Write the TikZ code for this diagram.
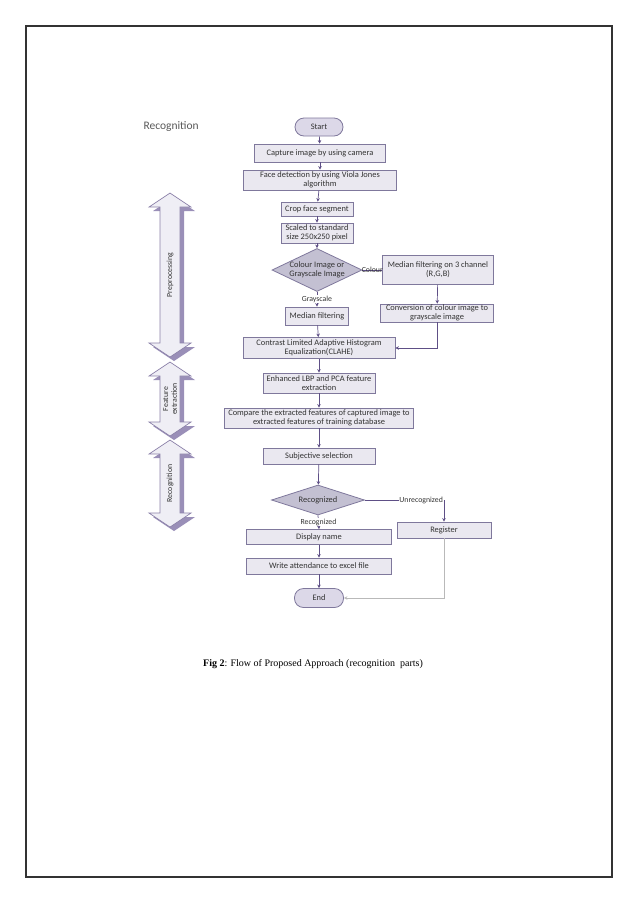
\documentclass[tikz,border=0pt]{standalone}
\usepackage{fontspec}
\setmainfont{Liberation Serif}
\newfontfamily\boxfont{Carlito}
\usetikzlibrary{shapes.geometric,arrows.meta}
\definecolor{boxfill}{HTML}{EAE8F0}
\definecolor{boxline}{HTML}{7F789C}
\definecolor{dfill}{HTML}{C3C0D2}
\definecolor{sfill}{HTML}{DCD8E8}
\definecolor{arr}{HTML}{5E4F86}
\definecolor{txt}{HTML}{333333}
\definecolor{bigfill}{HTML}{EFEEF5}
\definecolor{bigdark}{HTML}{9A8FB8}
\definecolor{bigline}{HTML}{8A80A8}
\tikzset{
  every node/.style={font=\boxfont\fontsize{8.4}{8.8}\selectfont, text=txt},
  procbox/.style={draw=boxline, fill=boxfill, line width=0.8pt, inner sep=0pt, align=center},
  stadium/.style={draw=boxline, fill=sfill, line width=0.8pt, rounded corners=9pt, inner sep=0pt, minimum width=48pt, minimum height=18pt},
  decision/.style={diamond, draw=boxline, fill=dfill, line width=0.8pt, inner sep=0pt, aspect=2.1, align=center},
  flowarrow/.style={draw=arr, line width=0.7pt, -{Stealth[length=3.5pt,width=3.5pt]}},
  greyarrow/.style={draw=gray!55, line width=0.8pt, -{Stealth[length=3.5pt,width=3.5pt,open]}},
  edgelabel/.style={font=\boxfont\fontsize{7.8}{8.5}\selectfont, fill=white, inner sep=0.8pt},
}
\newcommand\vdarrow[3]{%
  \fill[bigdark] ({174},{#1+4}) -- ({195},{#1+18}) -- ({184},{#1+18}) -- ({184},{#2-10}) -- ({195},{#2-10}) -- ({174},{#2+4}) -- ({153},{#2-10}) -- ({164},{#2-10}) -- ({164},{#1+18}) -- ({153},{#1+18}) -- cycle;
  \draw[bigline, fill=bigfill, line width=0.7pt] ({170},{#1}) -- ({191},{#1+14}) -- ({180},{#1+14}) -- ({180},{#2-14}) -- ({191},{#2-14}) -- ({170},{#2}) -- ({149},{#2-14}) -- ({160},{#2-14}) -- ({160},{#1+14}) -- ({149},{#1+14}) -- cycle;
  \node[rotate=90, align=center, font=\boxfont\fontsize{7.8}{8.6}\selectfont] at ({170},{(#1+#2)/2}) {#3};
}
\begin{document}
\begin{tikzpicture}[x=1pt, y=-1pt]
\useasboundingbox (0,0) rectangle (638,903);
\draw[line width=1.4pt, black!80] (26,26) rectangle (612,877);

\node[font=\boxfont\fontsize{11.5}{12}\selectfont, text=black!65, anchor=west] (title) at (140,127) {Recognition};

% left side arrows
\vdarrow{193}{357}{Preprocessing}
\vdarrow{362}{436}{Feature\\extraction}
\vdarrow{440}{527}{Recognition}

% flow nodes
\node[stadium] (start) at (319,127) {Start};
\node[procbox, minimum width=131pt, minimum height=18pt] (capture) at (320,153) {Capture image by using camera};
\node[procbox, minimum width=153pt, minimum height=20pt] (face) at (320,180) {Face detection by using Viola Jones\\algorithm};
\node[procbox, minimum width=72pt, minimum height=14pt] (crop) at (317,209) {Crop face segment};
\node[procbox, minimum width=72pt, minimum height=20pt] (scaled) at (317,233) {Scaled to standard\\size 250x250 pixel};
\node[decision, minimum width=90pt, minimum height=43pt] (d1) at (317,270) {Colour Image or\\Grayscale Image};
\node[procbox, minimum width=111pt, minimum height=29pt] (med3) at (438,270) {Median filtering on 3 channel\\(R,G,B)};
\node[procbox, minimum width=63pt, minimum height=18pt] (medf) at (317,316) {Median filtering};
\node[procbox, minimum width=113pt, minimum height=18pt] (conv) at (437,313) {Conversion of colour image to\\grayscale image};
\node[procbox, minimum width=152pt, minimum height=21pt] (clahe) at (319,348) {Contrast Limited Adaptive Histogram\\Equalization(CLAHE)};
\node[procbox, minimum width=112pt, minimum height=20pt] (lbp) at (319,383) {Enhanced LBP and PCA feature\\extraction};
\node[procbox, minimum width=189pt, minimum height=20pt] (compare) at (319,418) {Compare the extracted features of captured image to\\extracted features of training database};
\node[procbox, minimum width=112pt, minimum height=16pt] (subj) at (319,456) {Subjective selection};
\node[decision, minimum width=93pt, minimum height=30pt] (d2) at (318,500) {Recognized};
\node[procbox, minimum width=145pt, minimum height=15pt] (display) at (319,537) {Display name};
\node[procbox, minimum width=145pt, minimum height=16pt] (write) at (319,566) {Write attendance to excel file};
\node[stadium, minimum width=49pt, minimum height=19pt] (end) at (319,598) {End};
\node[procbox, minimum width=94pt, minimum height=16pt] (register) at (444,530) {Register};

% connectors
\draw[flowarrow] (start) -- (capture);
\draw[flowarrow] (capture) -- (face);
\draw[flowarrow] (face) -- (crop);
\draw[flowarrow] (crop) -- (scaled);
\draw[flowarrow] (scaled) -- (d1);
\draw[draw=arr, line width=0.7pt] (d1.east) -- node[edgelabel, fill=none] {Colour} (med3.west);
\draw[flowarrow] (d1.south) -- node[edgelabel] {Grayscale} (medf.north);
\draw[flowarrow] (med3) -- (conv);
\draw[flowarrow] (medf) -- (clahe);
\draw[flowarrow] (conv.south) |- (clahe.east);
\draw[flowarrow] (clahe) -- (lbp);
\draw[flowarrow] (lbp) -- (compare);
\draw[flowarrow] (compare) -- (subj);
\draw[flowarrow] (subj) -- (d2);
\draw[flowarrow] (d2.east) -| node[edgelabel, pos=0.5, anchor=east] {Unrecognized} (register.north);
\draw[flowarrow] (d2.south) -- node[edgelabel] {Recognized} (display.north);
\draw[flowarrow] (display) -- (write);
\draw[flowarrow] (write) -- (end);
\draw[greyarrow] (register.south) |- (end.east);

\node[font=\fontsize{10}{12}\selectfont, text=black] (caption) at (313,664) {\textbf{Fig 2}: Flow of Proposed Approach (recognition\ \ parts)};
\end{tikzpicture}
\end{document}
